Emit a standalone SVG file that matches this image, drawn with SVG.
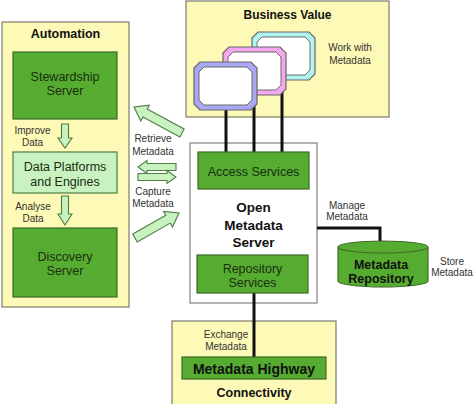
<svg xmlns="http://www.w3.org/2000/svg" width="474" height="404" viewBox="0 0 474 404">
<style>
text{font-family:"Liberation Sans",Arial,sans-serif;text-anchor:middle}
.grp{fill:#fdf9b6;stroke:#7d7c6c;stroke-width:1.2}
.srv{fill:#ffffff;stroke:#808080;stroke-width:1.2}
.dk{fill:#56ac30;stroke:#3c6a28;stroke-width:1.2}
.lt{fill:#c8f2c0;stroke:#4e7d45;stroke-width:1.2}
.arr{fill:#c8f2c0;stroke:#4e7d45;stroke-width:1.1}
.lbl{font-size:10px;fill:#333}
.bt{font-size:12.5px;fill:#1b2c10}
.hd{font-weight:bold;fill:#111}
.wire{stroke:#111;stroke-width:3;fill:none}
.inner{fill:#fff;stroke:#6a6a6a;stroke-width:1}
.outer{stroke:#666;stroke-width:1.2}
</style>
<defs>
<path id="scr-o" d="M6,0 H57 L63,6 V42 L57,48 H6 L0,42 V6 Z"/>
<path id="scr-i" d="M10,5 H53 L58,10 V38 L53,43 H10 L5,38 V10 Z"/>
</defs>

<g id="automation">
<rect class="grp" x="2" y="22" width="127" height="285"/>
<text class="hd" x="65.5" y="38" font-size="12.5">Automation</text>
</g>
<g id="stewardship-server">
<rect class="dk" x="13" y="52" width="104" height="67"/>
<text class="bt" x="65" y="81" font-size="12">Stewardship</text>
<text class="bt" x="65" y="95" font-size="12">Server</text>
</g>
<g id="data-platforms">
<rect class="lt" x="13" y="152" width="104" height="41"/>
<text class="bt" x="65" y="171" font-size="13">Data Platforms</text>
<text class="bt" x="65" y="186" font-size="13">and Engines</text>
</g>
<g id="discovery-server">
<rect class="dk" x="13" y="228" width="104" height="69"/>
<text class="bt" x="65" y="261" font-size="12">Discovery</text>
<text class="bt" x="65" y="275" font-size="12">Server</text>
</g>
<g id="automation-labels">
<text class="lbl" x="32.5" y="134">Improve</text>
<text class="lbl" x="32.5" y="146">Data</text>
<text class="lbl" x="33" y="210">Analyse</text>
<text class="lbl" x="33" y="222">Data</text>
</g>

<g id="business-value">
<rect class="grp" x="186" y="1" width="203" height="116"/>
<text class="hd" x="287.5" y="19" font-size="12">Business Value</text>
<text class="lbl" x="350" y="51">Work with</text>
<text class="lbl" x="350" y="64">Metadata</text>
</g>

<g id="open-metadata-server">
<rect class="srv" x="190" y="143" width="127" height="160"/>
<text class="hd" x="253.5" y="212" font-size="13.5">Open</text>
<text class="hd" x="253.5" y="229.5" font-size="13.5">Metadata</text>
<text class="hd" x="253.5" y="247" font-size="13.5">Server</text>
</g>

<g id="connectivity">
<rect class="grp" x="172" y="321" width="164" height="86"/>
<text class="hd" x="254" y="397" font-size="12.5">Connectivity</text>
<text class="lbl" x="226" y="338">Exchange</text>
<text class="lbl" x="226" y="350">Metadata</text>
</g>

<g id="connectors">
<line class="wire" x1="226" y1="100" x2="226" y2="152"/>
<line class="wire" x1="254" y1="85" x2="254" y2="152"/>
<line class="wire" x1="282" y1="70" x2="282" y2="152"/>
<polyline class="wire" points="317,228 380,228 380,242"/>
<line class="wire" x1="254" y1="292" x2="254" y2="358"/>
<path class="arr" transform="translate(65,124)" d="M-3.5,0 H3.5 V14 H7 L0,24 L-7,14 H-3.5 Z"/>
<path class="arr" transform="translate(65,196)" d="M-3.5,0 H3.5 V18 H7 L0,29 L-7,18 H-3.5 Z"/>
<path class="arr" transform="translate(182,133) rotate(208.4)" d="M0,-4.5 H42 V-9 L54.6,0 L42,9 V4.5 H0 Z"/>
<path class="arr" transform="translate(135,238) rotate(-29.6)" d="M0,-4.5 H38 V-9 L50.6,0 L38,9 V4.5 H0 Z"/>
<path class="arr" transform="translate(176,167) rotate(180)" d="M0,-3.5 H29 V-6.5 L38,0 L29,6.5 V3.5 H0 Z"/>
<path class="arr" transform="translate(138,177)" d="M0,-3.5 H29 V-6.5 L38,0 L29,6.5 V3.5 H0 Z"/>
</g>
<g id="arrow-labels">
<text class="lbl" x="153" y="142">Retrieve</text>
<text class="lbl" x="153" y="155">Metadata</text>
<text class="lbl" x="153" y="195">Capture</text>
<text class="lbl" x="153" y="207">Metadata</text>
<text class="lbl" x="347" y="209">Manage</text>
<text class="lbl" x="347" y="220">Metadata</text>
<text class="lbl" x="452" y="265">Store</text>
<text class="lbl" x="452" y="276">Metadata</text>
</g>

<g id="screen-cyan" transform="translate(252,32)">
<use href="#scr-o" class="outer" fill="#b2f4f2"/>
<use href="#scr-i" class="inner"/>
</g>
<g id="screen-pink" transform="translate(223,47)">
<use href="#scr-o" class="outer" fill="#f4a8ee"/>
<use href="#scr-i" class="inner"/>
</g>
<g id="screen-purple" transform="translate(194,62)">
<use href="#scr-o" class="outer" fill="#aaa8f4"/>
<use href="#scr-i" class="inner"/>
</g>

<g id="access-services">
<rect class="dk" x="198" y="152" width="111" height="37"/>
<text class="bt" x="253.5" y="176">Access Services</text>
</g>
<g id="repository-services">
<rect class="dk" x="197" y="255" width="111" height="38"/>
<text class="bt" x="252.5" y="273">Repository</text>
<text class="bt" x="252.5" y="287">Services</text>
</g>
<g id="metadata-highway">
<rect class="dk" x="182" y="357" width="144" height="22"/>
<text class="hd" x="254" y="374" font-size="14" fill="#14240c">Metadata Highway</text>
</g>
<g id="metadata-repository">
<path class="dk" d="M338,247 V281 A45,6 0 0 0 428,281 V247 A45,6 0 0 0 338,247 A45,6 0 0 0 428,247"/>
<text class="hd" x="381" y="269" font-size="12.5">Metadata</text>
<text class="hd" x="381" y="283" font-size="12.5">Repository</text>
</g>
</svg>
